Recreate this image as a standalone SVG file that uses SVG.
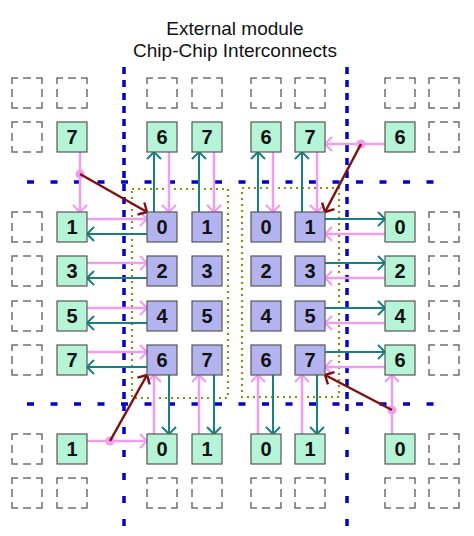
<svg xmlns="http://www.w3.org/2000/svg" width="474" height="536" viewBox="0 0 474 536">
<style>
.title{font-family:"Liberation Sans",Arial,sans-serif;font-size:19px;fill:#111;text-anchor:middle}
.lbl{font-family:"Liberation Sans",Arial,sans-serif;font-size:20px;font-weight:bold;fill:#111;text-anchor:middle}
.g{fill:#b6f4d8;stroke:#555;stroke-width:1.2}
.p{fill:#b3b3f0;stroke:#555;stroke-width:1.2}
.d{fill:none;stroke:#707070;stroke-width:1.5;stroke-dasharray:12 5 8 5;stroke-dashoffset:6}
.blue{stroke:#0000cc;stroke-width:3.5;fill:none}
.olive{fill:none;stroke:#8f8f14;stroke-width:2.2;stroke-dasharray:2 4}
.t{stroke:#178080;stroke-width:2;fill:none;marker-end:url(#aT)}
.k{stroke:#f09cf0;stroke-width:2.5;fill:none;marker-end:url(#aK)}
.r{stroke:#7f1010;stroke-width:2.5;fill:none;marker-end:url(#aR)}
.dot{fill:#f09cf0}
</style>
<defs>
<marker id="aT" viewBox="-10 -10 12 20" refX="0" refY="0" markerWidth="12" markerHeight="20" markerUnits="userSpaceOnUse" orient="auto"><path d="M-7,-7 L0,0 L-7,7" fill="none" stroke="#178080" stroke-width="2" stroke-linejoin="round"/></marker>
<marker id="aK" viewBox="-10 -10 12 20" refX="0" refY="0" markerWidth="12" markerHeight="20" markerUnits="userSpaceOnUse" orient="auto"><path d="M-7,-7 L0,0 L-7,7" fill="none" stroke="#f09cf0" stroke-width="2.2" stroke-linejoin="round"/></marker>
<marker id="aR" viewBox="-10 -10 12 20" refX="0" refY="0" markerWidth="12" markerHeight="20" markerUnits="userSpaceOnUse" orient="auto"><path d="M-7,-7 L0,0 L-7,7" fill="none" stroke="#7f1010" stroke-width="2.4" stroke-linejoin="round"/></marker>
</defs>
<rect width="474" height="536" fill="#fff"/>
<text class="title" x="235" y="35">External module</text>
<text class="title" x="235" y="57">Chip-Chip Interconnects</text>

<g id="guides">
<rect class="olive" x="132" y="189" width="96" height="209"/>
<rect class="olive" x="242" y="188" width="97" height="209"/>
<line class="blue" x1="124" y1="67" x2="124" y2="404" stroke-dasharray="7 6"/>
<line class="blue" x1="124" y1="404" x2="124" y2="528" stroke-dasharray="7 16"/>
<line class="blue" x1="347" y1="67" x2="347" y2="404" stroke-dasharray="7 6"/>
<line class="blue" x1="347" y1="404" x2="347" y2="528" stroke-dasharray="7 16"/>
<line class="blue" x1="27" y1="182" x2="437" y2="182" stroke-dasharray="7 16.5"/>
<line class="blue" x1="27" y1="404" x2="437" y2="404" stroke-dasharray="7 16.5"/>
</g>

<g id="connectors">
<path class="t" d="M154,212 V152"/><path class="t" d="M199,212 V152"/><path class="t" d="M258,212 V152"/><path class="t" d="M302,212 V152"/>
<path class="k" d="M169,152 V212"/><path class="k" d="M214,152 V212"/><path class="k" d="M273,152 V212"/><path class="k" d="M317,152 V212"/>
<path class="k" d="M87,219 H147"/><path class="t" d="M147,234 H87"/>
<path class="k" d="M87,263 H147"/><path class="t" d="M147,278 H87"/>
<path class="k" d="M87,308 H147"/><path class="t" d="M147,323 H87"/>
<path class="k" d="M87,352 H147"/><path class="t" d="M147,367 H87"/>
<path class="t" d="M325,219 H385"/><path class="k" d="M385,234 H325"/>
<path class="t" d="M325,263 H385"/><path class="k" d="M385,278 H325"/>
<path class="t" d="M325,308 H385"/><path class="k" d="M385,323 H325"/>
<path class="t" d="M325,352 H385"/><path class="k" d="M385,367 H325"/>
<path class="k" d="M154,434 V375"/><path class="k" d="M199,434 V375"/><path class="k" d="M258,434 V375"/><path class="k" d="M302,434 V375"/>
<path class="t" d="M169,375 V434"/><path class="t" d="M214,375 V434"/><path class="t" d="M273,375 V434"/><path class="t" d="M317,375 V434"/>
<path class="k" d="M80,152 V212"/>
<path class="k" d="M385,144 H325"/>
<path class="k" d="M87,441 H147"/>
<path class="k" d="M392,434 V375"/>
<circle class="dot" cx="80" cy="174" r="4.5"/>
<circle class="dot" cx="361" cy="144" r="4.5"/>
<circle class="dot" cx="110" cy="441" r="4.5"/>
<circle class="dot" cx="392" cy="410" r="4.5"/>
<path class="r" d="M80,174 L147,212"/>
<path class="r" d="M361,144 L325,212"/>
<path class="r" d="M110,441 L147,375"/>
<path class="r" d="M392,410 L325,375"/>
</g>

<g id="row0">
<rect class="d" x="12" y="78" width="30" height="30"/><rect class="d" x="57" y="78" width="30" height="30"/><rect class="d" x="147" y="78" width="30" height="30"/><rect class="d" x="192" y="78" width="30" height="30"/><rect class="d" x="251" y="78" width="30" height="30"/><rect class="d" x="295" y="78" width="30" height="30"/><rect class="d" x="385" y="78" width="30" height="30"/><rect class="d" x="429" y="78" width="30" height="30"/>
</g>
<g id="row1">
<rect class="d" x="12" y="122" width="30" height="30"/>
<g id="n1_1"><rect class="g" x="57" y="122" width="30" height="30"/><text class="lbl" x="72" y="144">7</text></g>
<g id="n1_2"><rect class="g" x="147" y="122" width="30" height="30"/><text class="lbl" x="162" y="144">6</text></g>
<g id="n1_3"><rect class="g" x="192" y="122" width="30" height="30"/><text class="lbl" x="207" y="144">7</text></g>
<g id="n1_4"><rect class="g" x="251" y="122" width="30" height="30"/><text class="lbl" x="266" y="144">6</text></g>
<g id="n1_5"><rect class="g" x="295" y="122" width="30" height="30"/><text class="lbl" x="310" y="144">7</text></g>
<g id="n1_6"><rect class="g" x="385" y="122" width="30" height="30"/><text class="lbl" x="400" y="144">6</text></g>
<rect class="d" x="429" y="122" width="30" height="30"/>
</g>
<g id="row2">
<rect class="d" x="12" y="212" width="30" height="30"/>
<g id="n2_1"><rect class="g" x="57" y="212" width="30" height="30"/><text class="lbl" x="72" y="234">1</text></g>
<g id="n2_2"><rect class="p" x="147" y="212" width="30" height="30"/><text class="lbl" x="162" y="234">0</text></g>
<g id="n2_3"><rect class="p" x="192" y="212" width="30" height="30"/><text class="lbl" x="207" y="234">1</text></g>
<g id="n2_4"><rect class="p" x="251" y="212" width="30" height="30"/><text class="lbl" x="266" y="234">0</text></g>
<g id="n2_5"><rect class="p" x="295" y="212" width="30" height="30"/><text class="lbl" x="310" y="234">1</text></g>
<g id="n2_6"><rect class="g" x="385" y="212" width="30" height="30"/><text class="lbl" x="400" y="234">0</text></g>
<rect class="d" x="429" y="212" width="30" height="30"/>
</g>
<g id="row3">
<rect class="d" x="12" y="256" width="30" height="30"/>
<g id="n3_1"><rect class="g" x="57" y="256" width="30" height="30"/><text class="lbl" x="72" y="278">3</text></g>
<g id="n3_2"><rect class="p" x="147" y="256" width="30" height="30"/><text class="lbl" x="162" y="278">2</text></g>
<g id="n3_3"><rect class="p" x="192" y="256" width="30" height="30"/><text class="lbl" x="207" y="278">3</text></g>
<g id="n3_4"><rect class="p" x="251" y="256" width="30" height="30"/><text class="lbl" x="266" y="278">2</text></g>
<g id="n3_5"><rect class="p" x="295" y="256" width="30" height="30"/><text class="lbl" x="310" y="278">3</text></g>
<g id="n3_6"><rect class="g" x="385" y="256" width="30" height="30"/><text class="lbl" x="400" y="278">2</text></g>
<rect class="d" x="429" y="256" width="30" height="30"/>
</g>
<g id="row4">
<rect class="d" x="12" y="301" width="30" height="30"/>
<g id="n4_1"><rect class="g" x="57" y="301" width="30" height="30"/><text class="lbl" x="72" y="323">5</text></g>
<g id="n4_2"><rect class="p" x="147" y="301" width="30" height="30"/><text class="lbl" x="162" y="323">4</text></g>
<g id="n4_3"><rect class="p" x="192" y="301" width="30" height="30"/><text class="lbl" x="207" y="323">5</text></g>
<g id="n4_4"><rect class="p" x="251" y="301" width="30" height="30"/><text class="lbl" x="266" y="323">4</text></g>
<g id="n4_5"><rect class="p" x="295" y="301" width="30" height="30"/><text class="lbl" x="310" y="323">5</text></g>
<g id="n4_6"><rect class="g" x="385" y="301" width="30" height="30"/><text class="lbl" x="400" y="323">4</text></g>
<rect class="d" x="429" y="301" width="30" height="30"/>
</g>
<g id="row5">
<rect class="d" x="12" y="345" width="30" height="30"/>
<g id="n5_1"><rect class="g" x="57" y="345" width="30" height="30"/><text class="lbl" x="72" y="367">7</text></g>
<g id="n5_2"><rect class="p" x="147" y="345" width="30" height="30"/><text class="lbl" x="162" y="367">6</text></g>
<g id="n5_3"><rect class="p" x="192" y="345" width="30" height="30"/><text class="lbl" x="207" y="367">7</text></g>
<g id="n5_4"><rect class="p" x="251" y="345" width="30" height="30"/><text class="lbl" x="266" y="367">6</text></g>
<g id="n5_5"><rect class="p" x="295" y="345" width="30" height="30"/><text class="lbl" x="310" y="367">7</text></g>
<g id="n5_6"><rect class="g" x="385" y="345" width="30" height="30"/><text class="lbl" x="400" y="367">6</text></g>
<rect class="d" x="429" y="345" width="30" height="30"/>
</g>
<g id="row6">
<rect class="d" x="12" y="434" width="30" height="30"/>
<g id="n6_1"><rect class="g" x="57" y="434" width="30" height="30"/><text class="lbl" x="72" y="456">1</text></g>
<g id="n6_2"><rect class="g" x="147" y="434" width="30" height="30"/><text class="lbl" x="162" y="456">0</text></g>
<g id="n6_3"><rect class="g" x="192" y="434" width="30" height="30"/><text class="lbl" x="207" y="456">1</text></g>
<g id="n6_4"><rect class="g" x="251" y="434" width="30" height="30"/><text class="lbl" x="266" y="456">0</text></g>
<g id="n6_5"><rect class="g" x="295" y="434" width="30" height="30"/><text class="lbl" x="310" y="456">1</text></g>
<g id="n6_6"><rect class="g" x="385" y="434" width="30" height="30"/><text class="lbl" x="400" y="456">0</text></g>
<rect class="d" x="429" y="434" width="30" height="30"/>
</g>
<g id="row7">
<rect class="d" x="12" y="478" width="30" height="30"/><rect class="d" x="57" y="478" width="30" height="30"/><rect class="d" x="147" y="478" width="30" height="30"/><rect class="d" x="192" y="478" width="30" height="30"/><rect class="d" x="251" y="478" width="30" height="30"/><rect class="d" x="295" y="478" width="30" height="30"/><rect class="d" x="385" y="478" width="30" height="30"/><rect class="d" x="429" y="478" width="30" height="30"/>
</g>
</svg>
